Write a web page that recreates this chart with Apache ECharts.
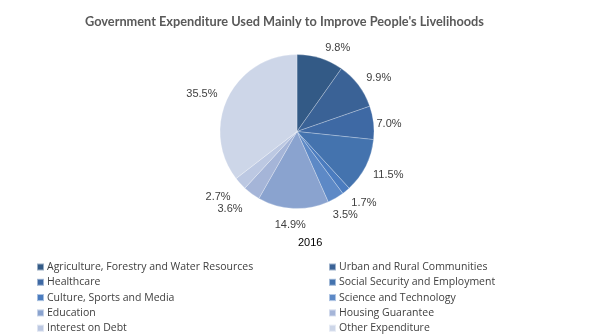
<!DOCTYPE html>
<html><head><meta charset="utf-8">
<script src="https://cdn.jsdelivr.net/npm/echarts@6/dist/echarts.min.js"></script>
<style>html,body{margin:0;padding:0;background:#fff}#c{width:598px;height:336px}</style>
</head><body><div id="c"></div>
<script>
const categories = ["Agriculture, Forestry and Water Resources","Urban and Rural Communities","Healthcare","Social Security and Employment","Culture, Sports and Media","Science and Technology","Education","Housing Guarantee","Interest on Debt","Other Expenditure"];
const values = [9.8, 9.9, 7.0, 11.5, 1.7, 3.5, 14.9, 3.6, 2.7, 35.5];
const colors = ["#335a86","#3a6296","#3e69a4","#4473ae","#4b7cbf","#5d89c6","#8aa3cf","#a5b5d8","#bcc8e2","#cdd6e8"];
const titleText = "Government Expenditure Used Mainly to Improve People's Livelihoods";
const yearLabel = "2016";

// fine nudges of the outside labels (Excel best-fit style), in px
const labelNudges = [[-2,-4],[2,-4],[-3,2],[0,6],[-6,7],[-11,6],[18,11],[-8,8],[-5,9],[0,-1]];

const chart = echarts.init(document.getElementById('c'));
const leftCol = categories.filter((c,i)=>i%2===0);
const rightCol = categories.filter((c,i)=>i%2===1);
const legendBase = {orient:'vertical', top:259.5, height:80, padding:[2,2,2,2], itemWidth:7, itemHeight:7, itemGap:4.3, icon:'rect',
  textStyle:{fontFamily:'Open Sans', fontSize:10.5, color:'#404040', padding:[0,0,0,-2]}, selectedMode:false};
chart.setOption({
  animation:false,
  color: colors,
  title:[{text:titleText, left:80, top:10, textStyle:{fontFamily:'Lato', fontWeight:'bold', fontSize:12.75, color:'#595959'}},
         {text:yearLabel, left:293, top:232, textStyle:{fontFamily:'Liberation Sans', fontWeight:'normal', fontSize:11, color:'#000'}}],
  legend:[Object.assign({left:34, data:leftCol}, legendBase), Object.assign({left:326, data:rightCol}, legendBase)],
  series:[{type:'pie', center:[297,131.5], radius:[0,77], startAngle:90, clockwise:true,
    data: categories.map((n,i)=>({name:n, value:values[i]})),
    itemStyle:{borderColor:'rgba(255,255,255,0.5)', borderWidth:0.5},
    label:{show:true, position:'outside', formatter:p=>p.value.toFixed(1)+'%', fontFamily:'Liberation Sans', fontSize:11, color:'#404040'},
    labelLine:{show:false, length:6, length2:0},
    labelLayout: p => { const n = labelNudges[p.dataIndex] || [0,0]; return {dx:n[0], dy:n[1]}; },
    emphasis:{disabled:true}
  }]
});
</script></body></html>
